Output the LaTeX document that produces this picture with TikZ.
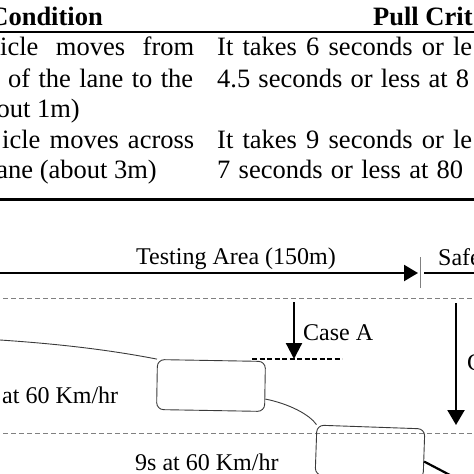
\documentclass[tikz,border=0pt]{standalone}
\usepackage{fontspec}
\setmainfont{Liberation Serif}
\usetikzlibrary{positioning,arrows.meta,calc}
\definecolor{laneGray}{HTML}{808080}
\definecolor{carGray}{HTML}{3A3A3A}

\begin{document}
\begin{tikzpicture}[x=1pt, y=-1pt,
    tableText/.style={inner sep=0pt, font=\fontsize{26.5}{31}\selectfont},
    headText/.style={inner sep=0pt, font=\fontsize{26.5}{31}\selectfont\bfseries},
    diagText/.style={inner sep=0pt, font=\fontsize{24}{28}\selectfont},
    carBox/.style={rectangle, rounded corners=7pt, draw=carGray, line width=0.9pt, minimum width=108pt, minimum height=50pt, inner sep=0pt},
    laneLine/.style={draw=laneGray, line width=0.9pt, dash pattern=on 5pt off 3pt},
    limitLine/.style={draw=black, line width=1.8pt, dash pattern=on 5pt off 2.5pt},
    trackLine/.style={draw=carGray, line width=0.9pt},
    arrowStyle/.style={-{Triangle[length=15pt, width=16pt]}, line width=2.2pt, draw=black}
]
    \useasboundingbox (0,0) rectangle (474,474);

    \node[headText, anchor=base east] (condHead) at (103,25) {Condition};
    \node[headText, anchor=base west] (pullHead) at (373,25) {Pull Crit};
    \draw[line width=1.2pt] (-5,32) -- (480,32);

    \node[tableText, anchor=base west] (condA1) at (0,55) {\makebox[194pt][s]{icle moves from}};
    \node[tableText, anchor=base west] (condA2) at (8,87) {\makebox[185pt][s]{of the lane to the}};
    \node[tableText, anchor=base east] (condA3) at (80,117) {out 1m)};
    \node[tableText, anchor=base west] (condB1) at (2,148) {\makebox[192pt][s]{icle moves across}};
    \node[tableText, anchor=base east] (condB2) at (157,178) {ane (about 3m)};

    \node[tableText, anchor=base west] (pullA1) at (217,55) {\makebox[255pt][s]{It takes 6 seconds or le}};
    \node[tableText, anchor=base west] (pullA2) at (217,87) {\makebox[252pt][s]{4.5 seconds or less at 8}};
    \node[tableText, anchor=base west] (pullB1) at (217,148) {\makebox[255pt][s]{It takes 9 seconds or le}};
    \node[tableText, anchor=base west] (pullB2) at (217,178) {\makebox[246pt][s]{7 seconds or less at 80}};
    \draw[line width=3pt] (-5,199) -- (480,199);

    \node[diagText, anchor=base] (areaLabel) at (236,264) {Testing Area (150m)};
    \coordinate (areaStart) at (-5,273);
    \coordinate (areaEnd) at (418,273);
    \draw[arrowStyle, -{Triangle[length=14pt, width=16pt]}] (areaStart) -- (areaEnd);
    \coordinate (tickTop) at (420,257);
    \coordinate (tickBot) at (420,288);
    \draw[draw=laneGray, line width=0.8pt] (tickTop) -- (tickBot);
    \coordinate (safeStart) at (424,273);
    \coordinate (safeEnd) at (480,273);
    \draw[line width=2.2pt] (safeStart) -- (safeEnd);
    \node[diagText, anchor=base west] (safeLabel) at (438,265) {Safe};

    \draw[laneLine] (-5,298) -- (480,298);
    \draw[laneLine] (-5,433) -- (480,433);

    \coordinate (caseATop) at (294,302);
    \coordinate (caseATip) at (294,359);
    \draw[arrowStyle, -{Triangle[length=16pt, width=16pt]}] (caseATop) -- (caseATip);
    \draw[limitLine] (252,359) -- (342,359);
    \node[diagText, anchor=base west] (caseALabel) at (303,340) {Case A};

    \coordinate (caseBTop) at (456,303);
    \coordinate (caseBTip) at (456,425);
    \draw[arrowStyle, -{Triangle[length=15pt, width=17pt]}] (caseBTop) -- (caseBTip);
    \node[diagText, anchor=base west] (caseBLabel) at (467,370) {C};

    \node[carBox, rotate=-1] (carA) at (211,385.5) {};
    \node[carBox, rotate=-2] (carB) at (370,452) {};

    \coordinate (pathStart) at (0,340);
    \draw[trackLine] (pathStart) .. controls (60,344) and (110,350) .. (carA.north west);
    \draw[trackLine] (carA.-13) .. controls (290,404) and (310,415) .. (carB.north west);
    \coordinate (pathEnd) at (490,496);
    \draw[line width=2.2pt] (carB.-8) -- (pathEnd);

    \node[diagText, anchor=base west] (speedA) at (2,403) {at 60 Km/hr};
    \node[diagText, anchor=base west] (speedB) at (135,470) {9s at 60 Km/hr};
\end{tikzpicture}
\end{document}
